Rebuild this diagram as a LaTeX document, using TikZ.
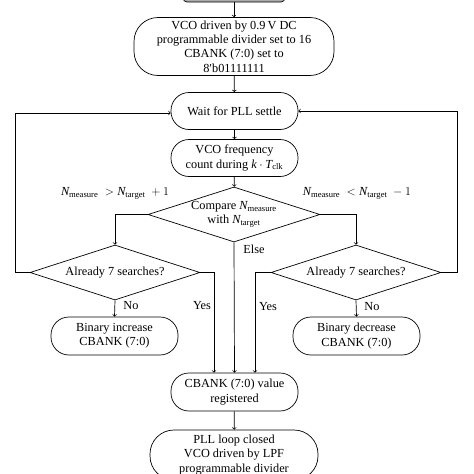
\documentclass[tikz,border=0pt]{standalone}
\usepackage{fontspec}
\setmainfont{Liberation Serif}
\usetikzlibrary{shapes.geometric}
\begin{document}
\begin{tikzpicture}[x=1pt,y=-1pt,line width=0.7pt,>=to,
    font=\fontsize{12.3}{14.3}\selectfont,
    box/.style={draw,rounded corners=18pt,align=center,inner sep=1pt,
      minimum width=127pt,minimum height=37pt},
    decision/.style={draw,diamond,shape aspect=3.1,align=center,inner sep=0pt,
      minimum width=170pt,minimum height=55pt},
    lbl/.style={inner sep=1pt}]
  \useasboundingbox (0,0) rectangle (474,474);
  % boxes
  \node[box,fill=gray!65,rounded corners=4pt,minimum width=102pt,minimum height=30pt] (start) at (234,-13) {};
  \node[box,minimum width=200pt,minimum height=58pt,rounded corners=24pt] (vco) at (234,46.5)
    {VCO driven by 0.9\,V DC\\programmable divider set to 16\\CBANK (7:0) set to\\8′b01111111};
  \node[box] (wait) at (234.5,111) {Wait for PLL settle};
  \node[box] (count) at (234.5,158) {VCO frequency\\count during $\mathit{k}\cdot\mathit{T}_{\mathrm{clk}}$};
  \node[decision,minimum width=172pt,inner sep=-4pt] (cmp) at (234,214.5)
    {Compare $\mathit{N}_{\mathrm{measure}}$\\with $\mathit{N}_{\mathrm{target}}$};
  \node[decision] (inc7) at (115,272.5) {Already 7 searches?};
  \node[decision] (dec7) at (356,272.5) {Already 7 searches?};
  \node[box,minimum height=38pt] (inc) at (114.5,336) {Binary increase\\CBANK (7:0)};
  \node[box,minimum height=38pt] (dec) at (356.5,336) {Binary decrease\\CBANK (7:0)};
  \node[box,minimum height=38pt] (reg) at (234.5,392) {CBANK (7:0) value\\registered};
  \node[box,minimum width=168pt,minimum height=50pt,rounded corners=24pt] (fin) at (234,455)
    {PLL loop closed\\VCO driven by LPF\\programmable divider};
  % connectors
  \draw[->] (start) -- (vco);
  \draw[->] (vco) -- (wait);
  \draw[->] (wait) -- (count);
  \draw[->] (count) -- (cmp);
  \draw[->] (cmp.west) -| (inc7.north);
  \draw[->] (cmp.east) -| (dec7.north);
  \draw[->] (cmp.south) -- (reg.north);
  \draw[->] (inc7.east) -| ([xshift=-20.5pt]reg.north);
  \draw[->] (dec7.west) -| ([xshift=20.5pt]reg.north);
  \draw[->] (inc7.south) -- (inc.north);
  \draw[->] (dec7.south) -- (dec.north);
  \draw[->] (inc7.west) -- ++(-14,0) |- ([yshift=-2pt]wait.west);
  \draw[->] (dec7.east) -- ++(16,0) |- (wait.east);
  \draw[->] (reg) -- (fin);
  % labels
  \node[lbl] (gt) at (115,193) {$\mathit{N}_{\mathrm{measure}}\ > \mathit{N}_{\mathrm{target}}\ + 1$};
  \node[lbl] (lt) at (357,193) {$\mathit{N}_{\mathrm{measure}}\ < \mathit{N}_{\mathrm{target}}\ - 1$};
  \node[lbl] (else) at (254,249) {Else};
  \node[lbl] (yes1) at (202,306) {Yes};
  \node[lbl] (yes2) at (268,307) {Yes};
  \node[lbl] (no1) at (131,306) {No};
  \node[lbl] (no2) at (372,307) {No};
\end{tikzpicture}
\end{document}
